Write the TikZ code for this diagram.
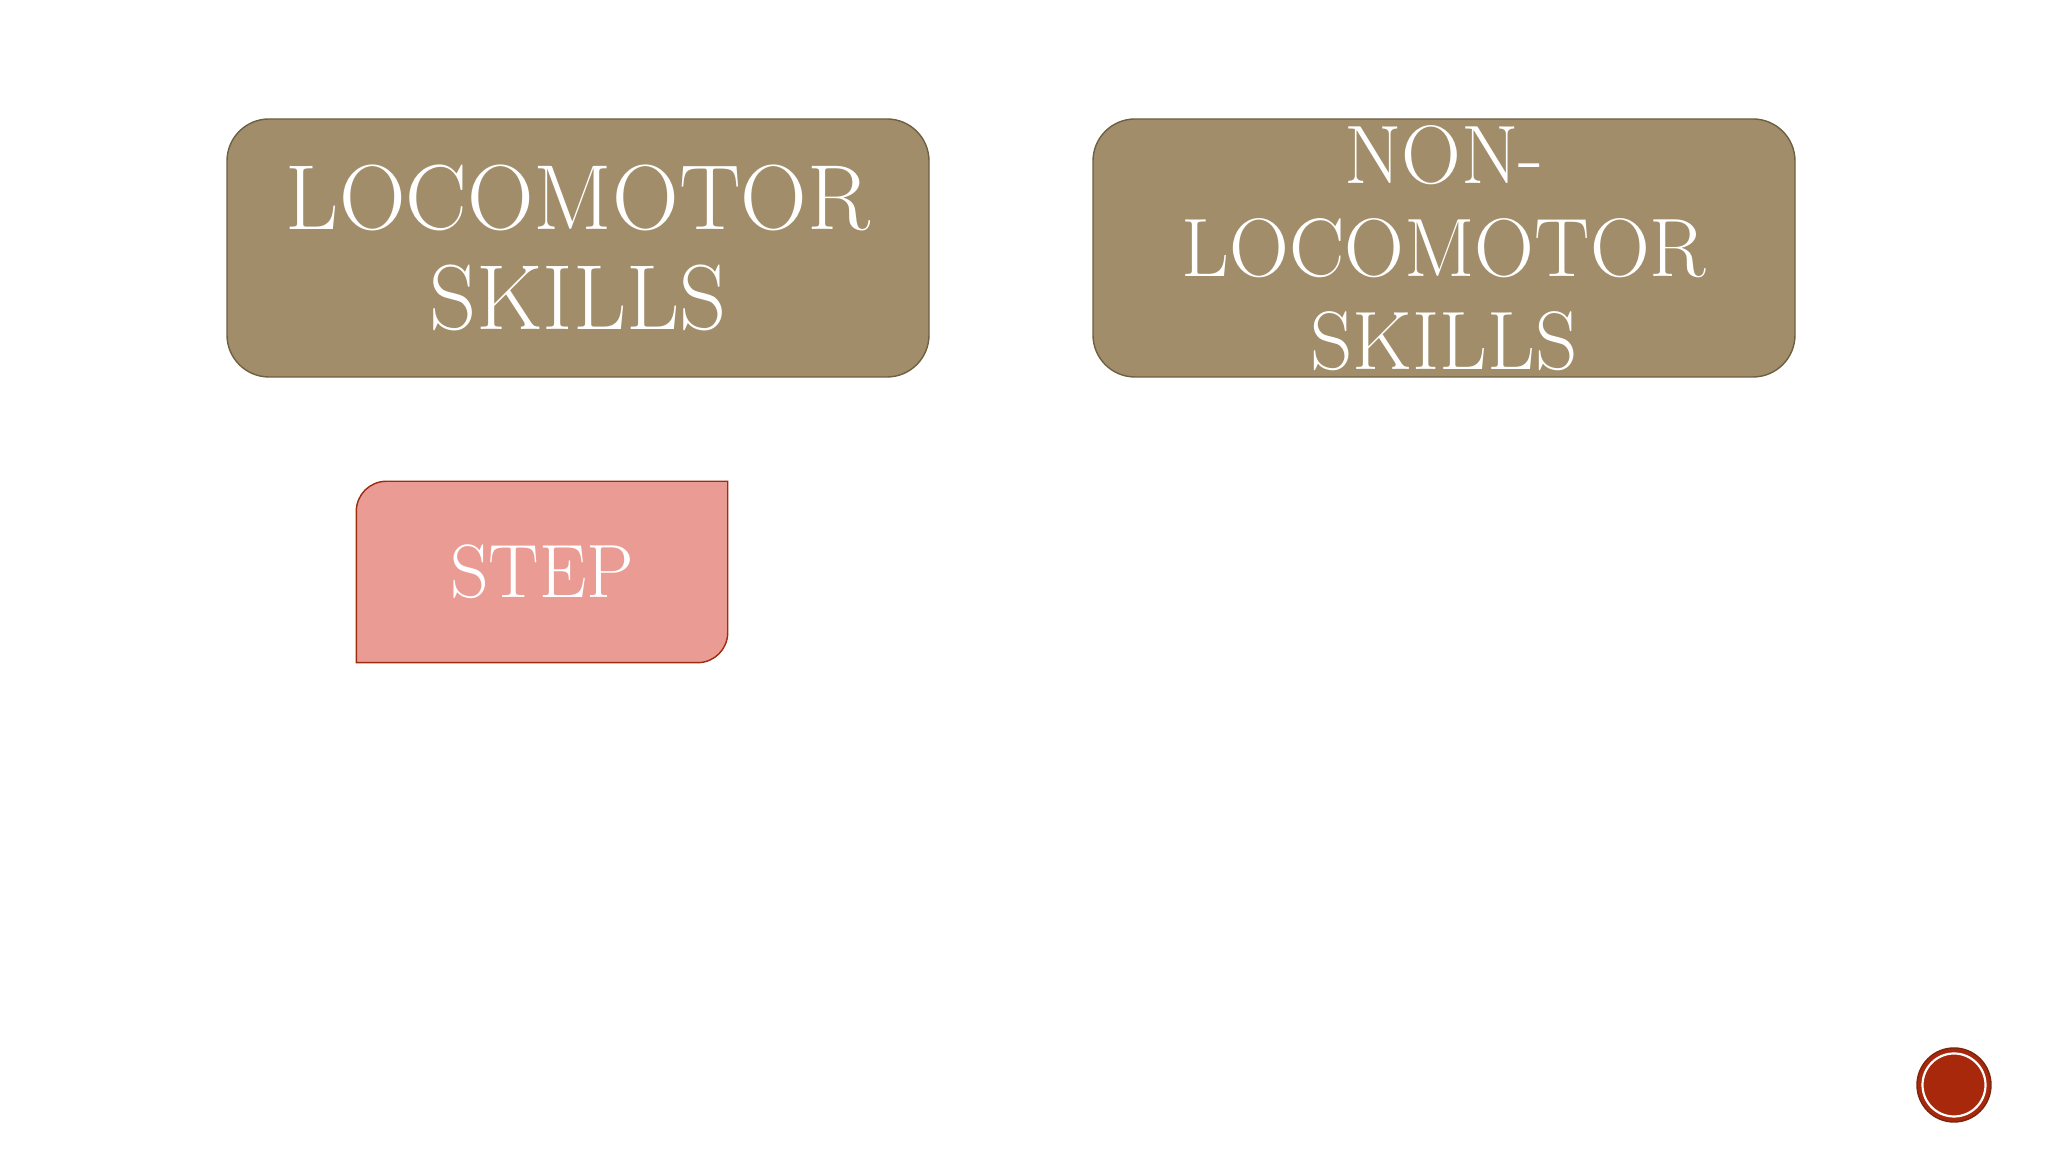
\documentclass[tikz,border=0pt]{standalone}
\usepackage{xcolor}
\usepackage{tikz}
\usetikzlibrary{positioning, backgrounds}
\definecolor{SkillFill}{RGB}{161, 141, 106}
\definecolor{SkillDraw}{RGB}{110, 96, 66}
\definecolor{StepFill}{RGB}{233, 155, 148}
\definecolor{StepDraw}{RGB}{155, 45, 16}
\definecolor{DotFill}{RGB}{168, 40, 12}

\begin{document}
\begin{tikzpicture}
        \tikzset{
            skill_box/.style={rectangle, draw=SkillDraw, fill=SkillFill, rounded corners=0.42cm, minimum width=7.02cm, minimum height=2.58cm},
            skill_text/.style={text=white, align=center, inner sep=0pt},
            step_text/.style={text=white, minimum width=3.7cm, minimum height=1.8cm, font=\fontsize{21.5}{24}\selectfont},
            step_shape/.style={draw=StepDraw, fill=StepFill}
        }
        \useasboundingbox (0,0) rectangle (20.48,11.52);

        \node[skill_box] (loco) at (5.78,9.04) {};
        \node[skill_text, font=\fontsize{26.3}{28.5}\selectfont] at (loco) {LOCOMOTOR\\SKILLS};
        \node[skill_box] (nonloco) at (14.44,9.04) {};
        \node[skill_text, font=\fontsize{23.6}{26.5}\selectfont] at (nonloco) {NON-\\LOCOMOTOR\\SKILLS};

        \node[step_text] (step) at (5.42,5.80) {STEP};
        \begin{scope}[on background layer]
            \draw[step_shape] (step.south west) [rounded corners=0.3cm] -- (step.north west) [sharp corners] -- (step.north east) [rounded corners=0.3cm] -- (step.south east) [sharp corners] -- cycle;
        \end{scope}

        % corner dot
        \node[circle, draw=StepDraw!80!black, fill=DotFill, minimum size=0.74cm, inner sep=0pt] (dot) at (19.54,0.67) {};
        \draw[white, line width=0.022cm] (dot.center) circle (0.315cm);

    \end{tikzpicture}
\end{document}
